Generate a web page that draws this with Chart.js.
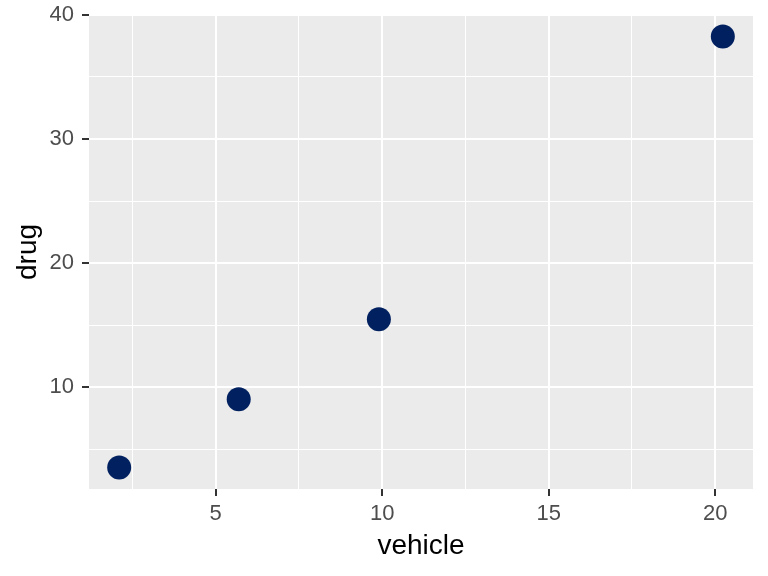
<!DOCTYPE html>
<html>
<head>
<meta charset="utf-8">
<script src="https://cdn.jsdelivr.net/npm/chart.js@4"></script>
<style>
  body { margin: 0; background: #fff; }
  #wrap { width: 768px; height: 576px; }
</style>
</head>
<body>
<div id="wrap"><canvas id="myChart"></canvas></div>
<script>
// data
const vehicle = [2.1, 5.69, 9.9, 20.23];
const drug = [3.55, 9.04, 15.48, 38.25];

// tick positions
const xMajor = [5, 10, 15, 20];
const xMinor = [2.5, 7.5, 12.5, 17.5];
const yMajor = [10, 20, 30, 40];
const yMinor = [5, 15, 25, 35];

// ggplot style 5% expansion
function expand(vals) {
  const lo = Math.min(...vals), hi = Math.max(...vals);
  const pad = (hi - lo) * 0.05;
  return [lo - pad, hi + pad];
}
const [xMin, xMax] = expand(vehicle);
const [yMin, yMax] = expand(drug);

const FONT = "'Liberation Sans', Arial, sans-serif";

// gray panel behind the plot
const panelBg = {
  id: 'panelBg',
  beforeDraw(chart) {
    const a = chart.chartArea;
    const c = chart.ctx;
    c.save();
    c.fillStyle = '#EBEBEB';
    c.fillRect(a.left, a.top, a.right - a.left, a.bottom - a.top);
    c.restore();
  }
};

function axisOpts(major, minor, lo, hi, title, isY) {
  const isMajor = v => major.includes(v);
  return {
    type: 'linear',
    min: lo,
    max: hi,
    afterBuildTicks: (scale) => {
      // allow the top label a hair outside the panel, like ggplot does
      scale.ticks = [...major, ...minor]
        .filter(v => v >= lo - 0.1 && v <= hi + 0.1)
        .sort((a, b) => a - b)
        .map(v => ({ value: v }));
    },
    afterFit: (scale) => {
      if (isY) {
        scale.width = 89;
        scale.paddingTop = 0;
        scale.paddingBottom = 0;
      } else {
        scale.height = 87;
        scale.paddingLeft = 0;
        scale.paddingRight = 0;
      }
    },
    border: { display: false },
    grid: {
      color: '#FFFFFF',
      lineWidth: ctx => (ctx.tick && isMajor(ctx.tick.value)) ? 2 : 1,
      tickColor: ctx => (ctx.tick && isMajor(ctx.tick.value)) ? '#333333' : 'rgba(0,0,0,0)',
      tickWidth: 2,
      tickLength: 7,
      drawOnChartArea: true
    },
    ticks: {
      autoSkip: false,
      maxRotation: 0,
      padding: isY ? 8 : 5,
      color: '#4D4D4D',
      font: { family: FONT, size: 22 },
      callback: v => isMajor(v) ? String(v) : ''
    },
    title: {
      display: true,
      text: title,
      color: '#000000',
      font: { family: FONT, size: 28 },
      padding: isY ? { top: 11, bottom: 0 } : { top: 0, bottom: 13 }
    }
  };
}

const ctx = document.getElementById('myChart');

new Chart(ctx, {
  type: 'scatter',
  data: {
    datasets: [{
      label: 'drug vs vehicle',
      data: vehicle.map((v, i) => ({ x: v, y: drug[i] })),
      backgroundColor: '#002060',
      borderColor: '#002060',
      borderWidth: 0,
      pointRadius: 12,
      pointHoverRadius: 12
    }]
  },
  options: {
    responsive: true,
    maintainAspectRatio: false,
    animation: false,
    layout: { padding: { top: 15, right: 15, left: 0, bottom: 0 } },
    plugins: {
      legend: { display: false },
      tooltip: { enabled: false }
    },
    scales: {
      x: axisOpts(xMajor, xMinor, xMin, xMax, 'vehicle', false),
      y: axisOpts(yMajor, yMinor, yMin, yMax, 'drug', true)
    }
  },
  plugins: [panelBg]
});
</script>
</body>
</html>
